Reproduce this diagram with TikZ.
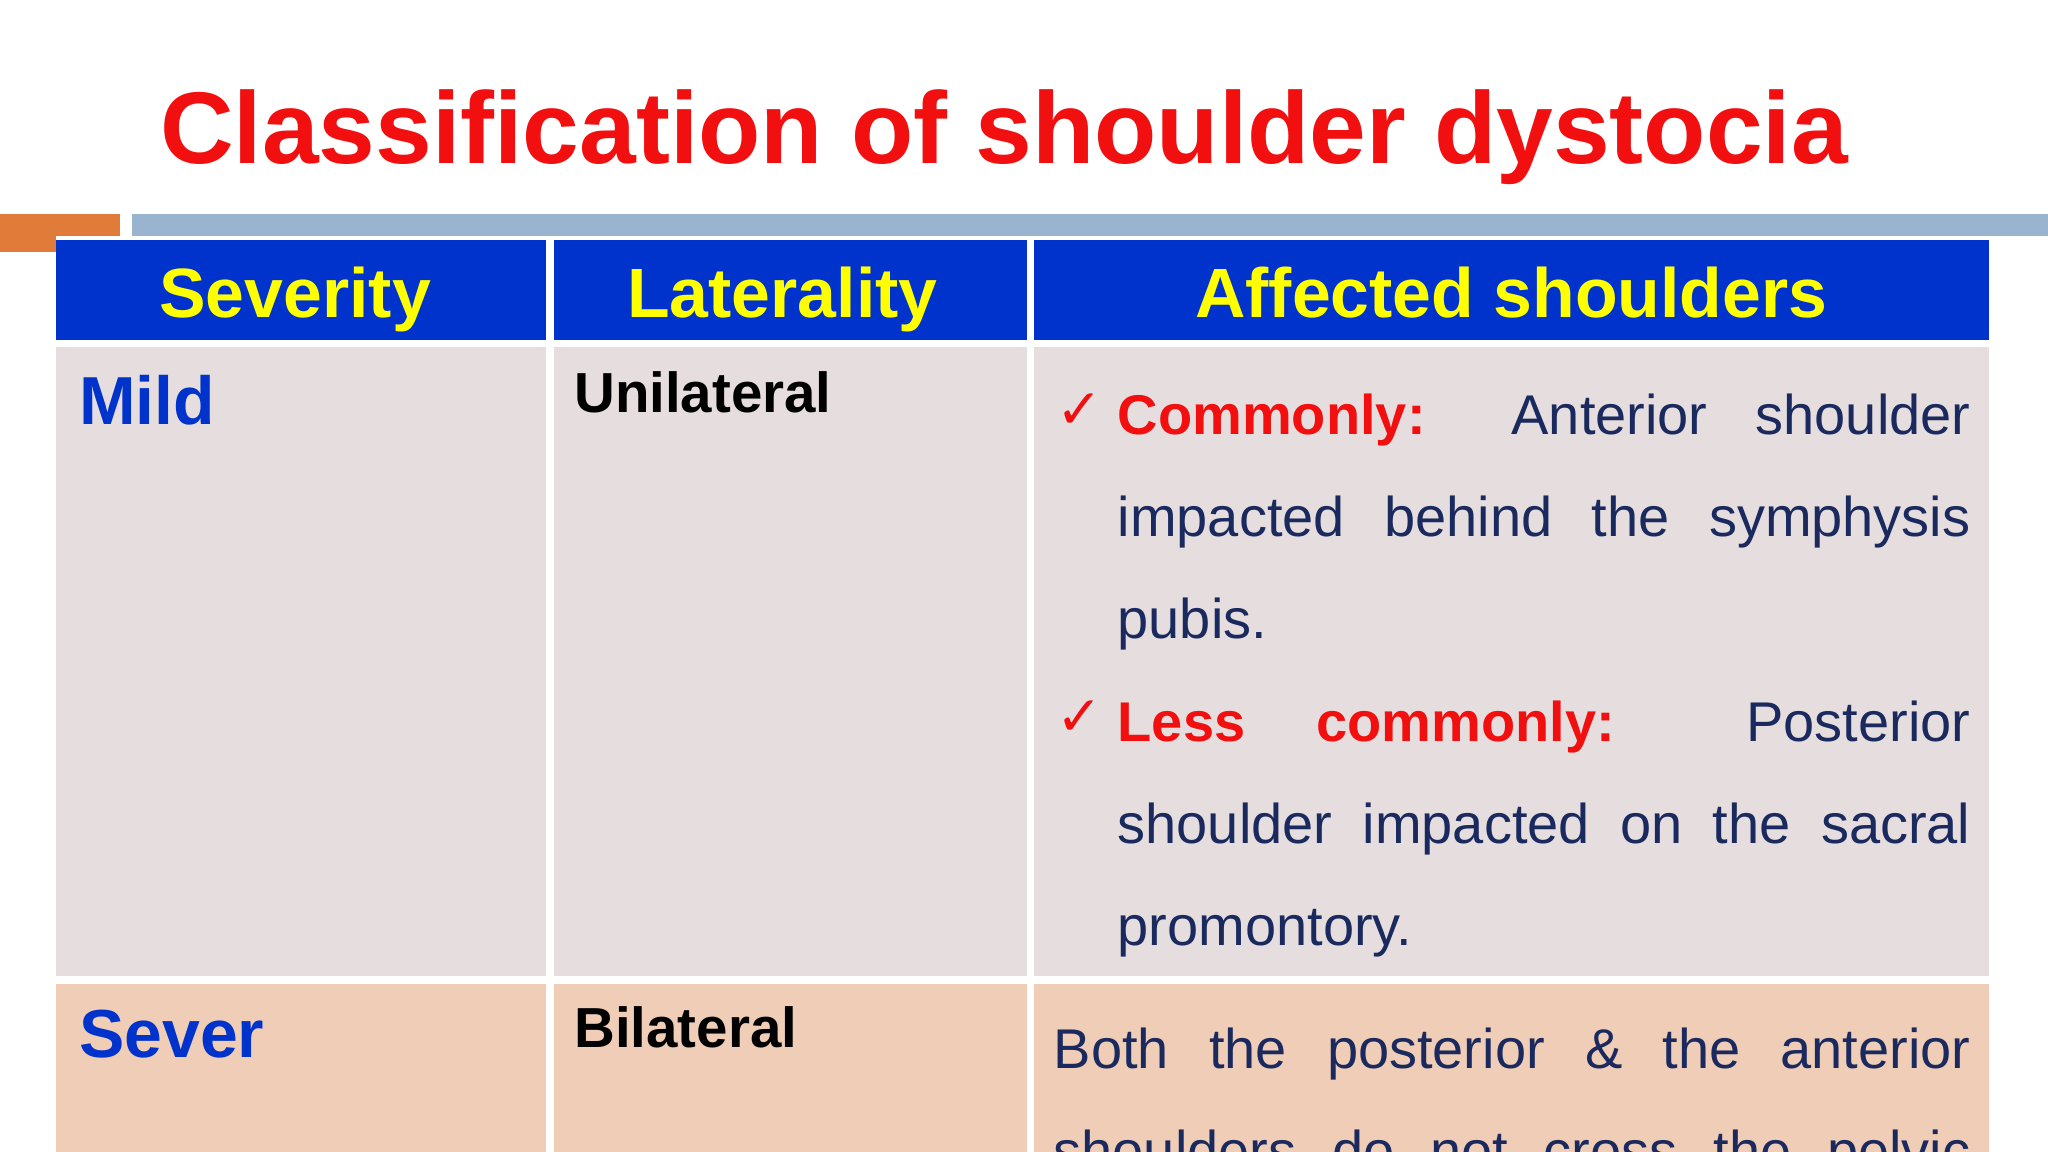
\documentclass[tikz,border=0pt]{standalone}
\usepackage{fontspec}
\setmainfont{Liberation Sans}
\newfontfamily\dejavu{DejaVu Sans}
\definecolor{hdrblue}{HTML}{0033CC}
\definecolor{rowa}{HTML}{E6DEDE}
\definecolor{rowb}{HTML}{F0CDB6}
\definecolor{barblue}{HTML}{98B4CE}
\definecolor{barorange}{HTML}{E07B39}
\definecolor{navy}{HTML}{1B2A5E}
\definecolor{titlered}{HTML}{F20F0F}
\definecolor{yel}{HTML}{FFFF00}
\tikzset{
 hdr/.style={anchor=base,font=\fontsize{15.2}{18}\selectfont\bfseries,text=yel,inner sep=0},
 sev/.style={anchor=base west,font=\fontsize{14.8}{18}\selectfont\bfseries,text=hdrblue,inner sep=0},
 lat/.style={anchor=base west,font=\fontsize{12.3}{15}\selectfont\bfseries,text=black,inner sep=0},
 body/.style={anchor=base west,font=\fontsize{12.2}{15}\selectfont,text=navy,inner sep=0},
 tick/.style={anchor=base west,font=\fontsize{12}{15}\selectfont\dejavu,text=titlered,inner sep=0},
 cellline/.style={draw=white,line width=0.6mm}
}
\newcommand{\jl}[2]{\makebox[#1][s]{#2}}
\newcommand{\rb}[1]{\textcolor{titlered}{\bfseries #1}}
\begin{document}
\begin{tikzpicture}[x=0.1mm,y=-0.1mm]
\useasboundingbox (0,0) rectangle (1568,882);
\clip (0,0) rectangle (1568,882);
\fill[white] (0,0) rectangle (1568,882);
\node[anchor=base west,inner sep=0,font=\fontsize{22.2}{26}\selectfont\bfseries,text=titlered] (title) at (122,125) {Classification of shoulder dystocia};
\fill[barorange] (0,164) rectangle (92,193);
\fill[barblue] (101,164) rectangle (1568,181);
% cells
\fill[hdrblue] (43,182) rectangle (1524,263);
\fill[rowa] (43,263) rectangle (1524,750);
\fill[rowb] (43,750) rectangle (1524,900);
\draw[cellline] (43,263) -- (1524,263);
\draw[cellline] (43,750) -- (1524,750);
\draw[cellline] (421,182) -- (421,900);
\draw[cellline] (789,182) -- (789,900);
\draw[white,line width=0.3mm] (43,182) -- (1524,182) -- (1524,900);
\node[hdr] (h1) at (226,243) {Severity};
\node[hdr] (h2) at (599,243) {Laterality};
\node[hdr] (h3) at (1157,243) {Affected shoulders};
\node[sev] (m) at (60,325) {Mild};
\node[lat] (u) at (439,316) {Unilateral};
\node[sev] (s) at (60,810) {Sever};
\node[lat] (b) at (439,802) {Bilateral};
\node[tick] (t1) at (808,328) {✓};
\node[tick] (t2) at (808,563) {✓};
\node[body] (l1) at (855,333) {\jl{65.3mm}{\rb{Commonly:} Anterior shoulder}};
\node[body] (l2) at (855,411) {\jl{65.3mm}{impacted behind the symphysis}};
\node[body] (l3) at (855,489) {pubis.};
\node[body] (l4) at (855,568) {\jl{65.3mm}{\rb{Less commonly:} Posterior}};
\node[body] (l5) at (855,646) {\jl{65.3mm}{shoulder impacted on the sacral}};
\node[body] (l6) at (855,724) {promontory.};
\node[body] (r1) at (806,818) {\jl{70.2mm}{Both the posterior \& the anterior}};
\node[body] (r2) at (806,896) {\jl{70.2mm}{shoulders do not cross the pelvic}};
\end{tikzpicture}
\end{document}
